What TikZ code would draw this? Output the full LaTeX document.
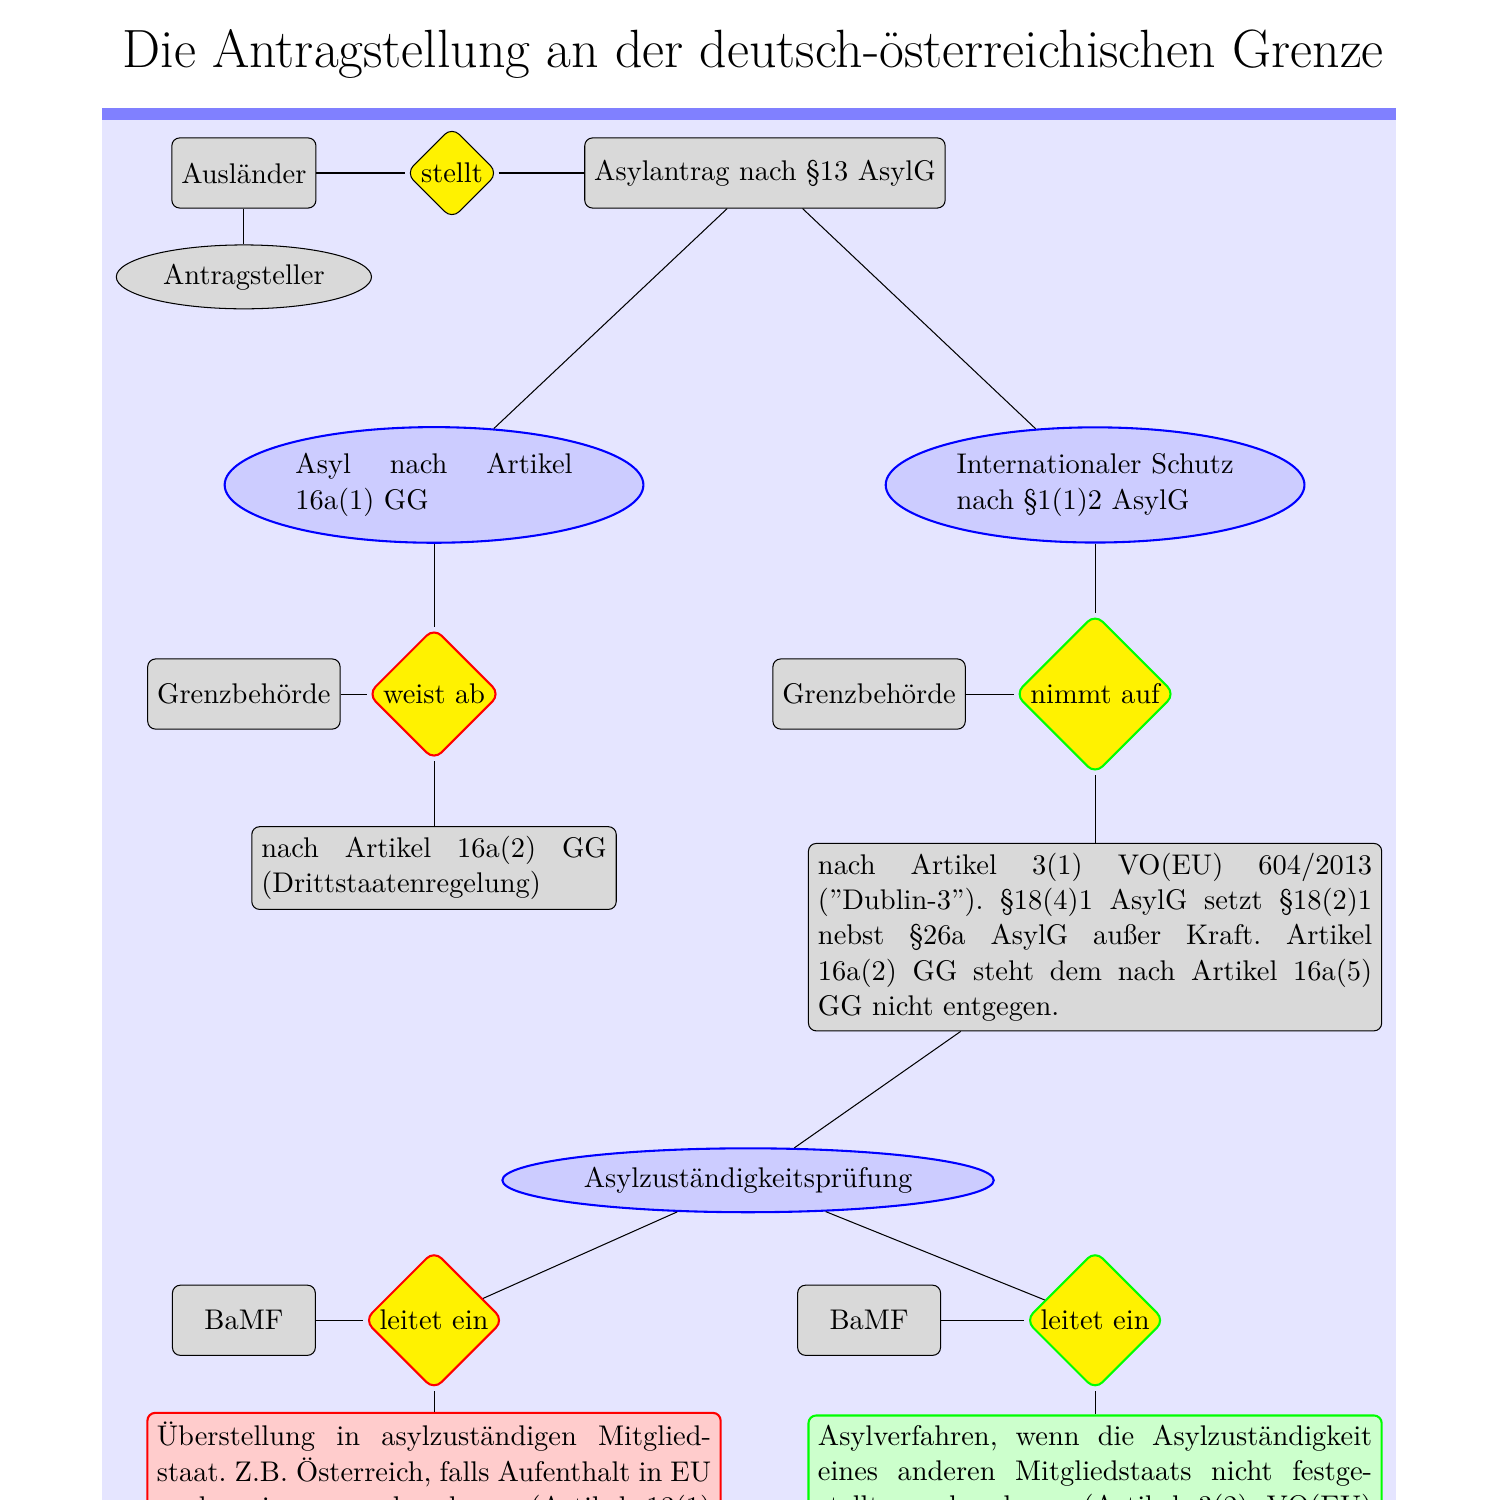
\documentclass[tikz,border=0pt,11pt]{standalone}
\usepackage[usenames,dvipsnames,table]{xcolor}
\usepackage{tikz}
\usetikzlibrary{shapes}
\usetikzlibrary{positioning}

\frenchspacing
\begin{document}
\begin{tikzpicture}
      [on grid,
       actorBox/.style={rectangle,rounded corners=3pt,draw=black,fill=black!15,minimum width=55pt,minimum height=27pt},
       ruleBox/.style={rectangle,rounded corners=3pt,draw=black,fill=black!15,text width=#1,align=justify},
       relation/.style={diamond,aspect=1,rounded corners=4pt,inner sep=1pt,draw=black,fill=yellow},
       rejectRelation/.style={relation,draw=red,thick},
       acceptRelation/.style={relation,draw=green,thick},
       roleEllipse/.style={ellipse,draw=black,fill=black!15},
       rightEllipse/.style={ellipse,draw=blue,thick,fill=blue!20},
       rejectBox/.style={rectangle,rounded corners=3pt,draw=red,thick,fill=red!20,text width=7.5cm,align=justify},
       acceptBox/.style={rectangle,rounded corners=3pt,draw=green,thick,fill=green!20,text width=7.5cm,align=justify}]
      \useasboundingbox (0,0) rectangle (577.5pt,-577.5pt);
      \fill[blue!10] (39.3pt,-46.2pt) rectangle (537.5pt,-600pt);
      \fill[blue!50] (39.3pt,-41.5pt) rectangle (537.5pt,-46.2pt);
      \node[anchor=base] (title) at (290pt,-26pt) {\huge Die Antragstellung an der deutsch-österreichischen Grenze};

      % Antrag
      \node[actorBox] (auslaender) at (93.9pt,-66.6pt) {Ausländer};
      \node[relation] (stellt) [right=80.1pt of auslaender] {stellt};
      \node[actorBox] (antrag) [right=120.5pt of stellt] {Asylantrag nach §13 AsylG};
      \node[roleEllipse] (antragsteller) [below=40pt of auslaender] {Antragsteller};

      % Asyl nach Art. 16a GG
      \node[rightEllipse,text width=3.75cm,align=justify] (asyl) [below left=120.1pt and 127.4pt of antrag] {Asyl nach Artikel 16a(1) GG};
      \node[rejectRelation] (weistab) [below=80.5pt of asyl] {weist ab};
      \node[actorBox] (grenzeLinks) [left=73.2pt of weistab] {Grenzbehörde};
      \node[ruleBox=133pt] (drittstaat) [below=67pt of weistab] {nach Artikel 16a(2) GG (Drittstaatenregelung)};

      % internationaler Schutz
      \node[rightEllipse,text width=3.75cm,align=justify] (schutz) [right=254.5pt of asyl] {Internationaler Schutz nach §1(1)2 AsylG};
      \node[acceptRelation] (nimmtauf) [below=80.5pt of schutz] {nimmt auf};
      \node[actorBox] (grenzeRechts) [left=87pt of nimmtauf] {Grenzbehörde};
      \node[ruleBox=7.5cm] (dublin) [below=93.6pt of nimmtauf] {nach Artikel 3(1) VO(EU) 604/2013 (”Dublin-3”). §18(4)1 AsylG setzt §18(2)1 nebst §26a AsylG außer Kraft. Artikel\linebreak 16a(2) GG steht dem nach Artikel 16a(5) GG nicht entgegen.};

      % Zustaendigkeit
      \node[rightEllipse] (pruefung) [below left=93.6pt and 133.6pt of dublin] {Asylzuständigkeitsprüfung};
      \node[rejectRelation] (leitetLinks) [below left=53.9pt and 120.9pt of pruefung] {leitet ein};
      \node[acceptRelation] (leitetRechts) [right=254.5pt of leitetLinks] {leitet ein};
      \node[actorBox] (bamfLinks) [left=73.2pt of leitetLinks] {BaMF};
      \node[actorBox] (bamfRechts) [left=87pt of leitetRechts] {BaMF};
      \node[rejectBox] (ueberstellung) [on grid=false,below=8pt of leitetLinks] {Überstellung in asylzuständigen Mitglied\-staat. Z.B. Österreich, falls Aufenthalt in EU\linebreak nachgewiesen werden kann (Artikel 13(1) VO(EU) 604/2013).};
      \node[acceptBox] (verfahren) [on grid=false,below=9pt of leitetRechts] {Asylverfahren, wenn die Asylzuständigkeit eines anderen Mitgliedstaats nicht festge\-stellt werden kann (Artikel 3(2) VO(EU) 604/2013).};

      \draw (auslaender) -- (stellt);
      \draw (stellt) -- (antrag);
      \draw (auslaender) -- (antragsteller);
      \draw (antrag) -- (asyl);
      \draw (antrag) -- (schutz);
      \draw (asyl) -- (weistab);
      \draw (grenzeLinks) -- (weistab);
      \draw (weistab) -- (drittstaat);
      \draw (schutz) -- (nimmtauf);
      \draw (grenzeRechts) -- (nimmtauf);
      \draw (nimmtauf) -- (dublin);
      \draw (dublin) -- (pruefung);
      \draw (pruefung) -- (leitetLinks);
      \draw (pruefung) -- (leitetRechts);
      \draw (bamfLinks) -- (leitetLinks);
      \draw (bamfRechts) -- (leitetRechts);
      \draw (leitetLinks) -- (ueberstellung);
      \draw (leitetRechts) -- (verfahren);
    \end{tikzpicture}
\end{document}
